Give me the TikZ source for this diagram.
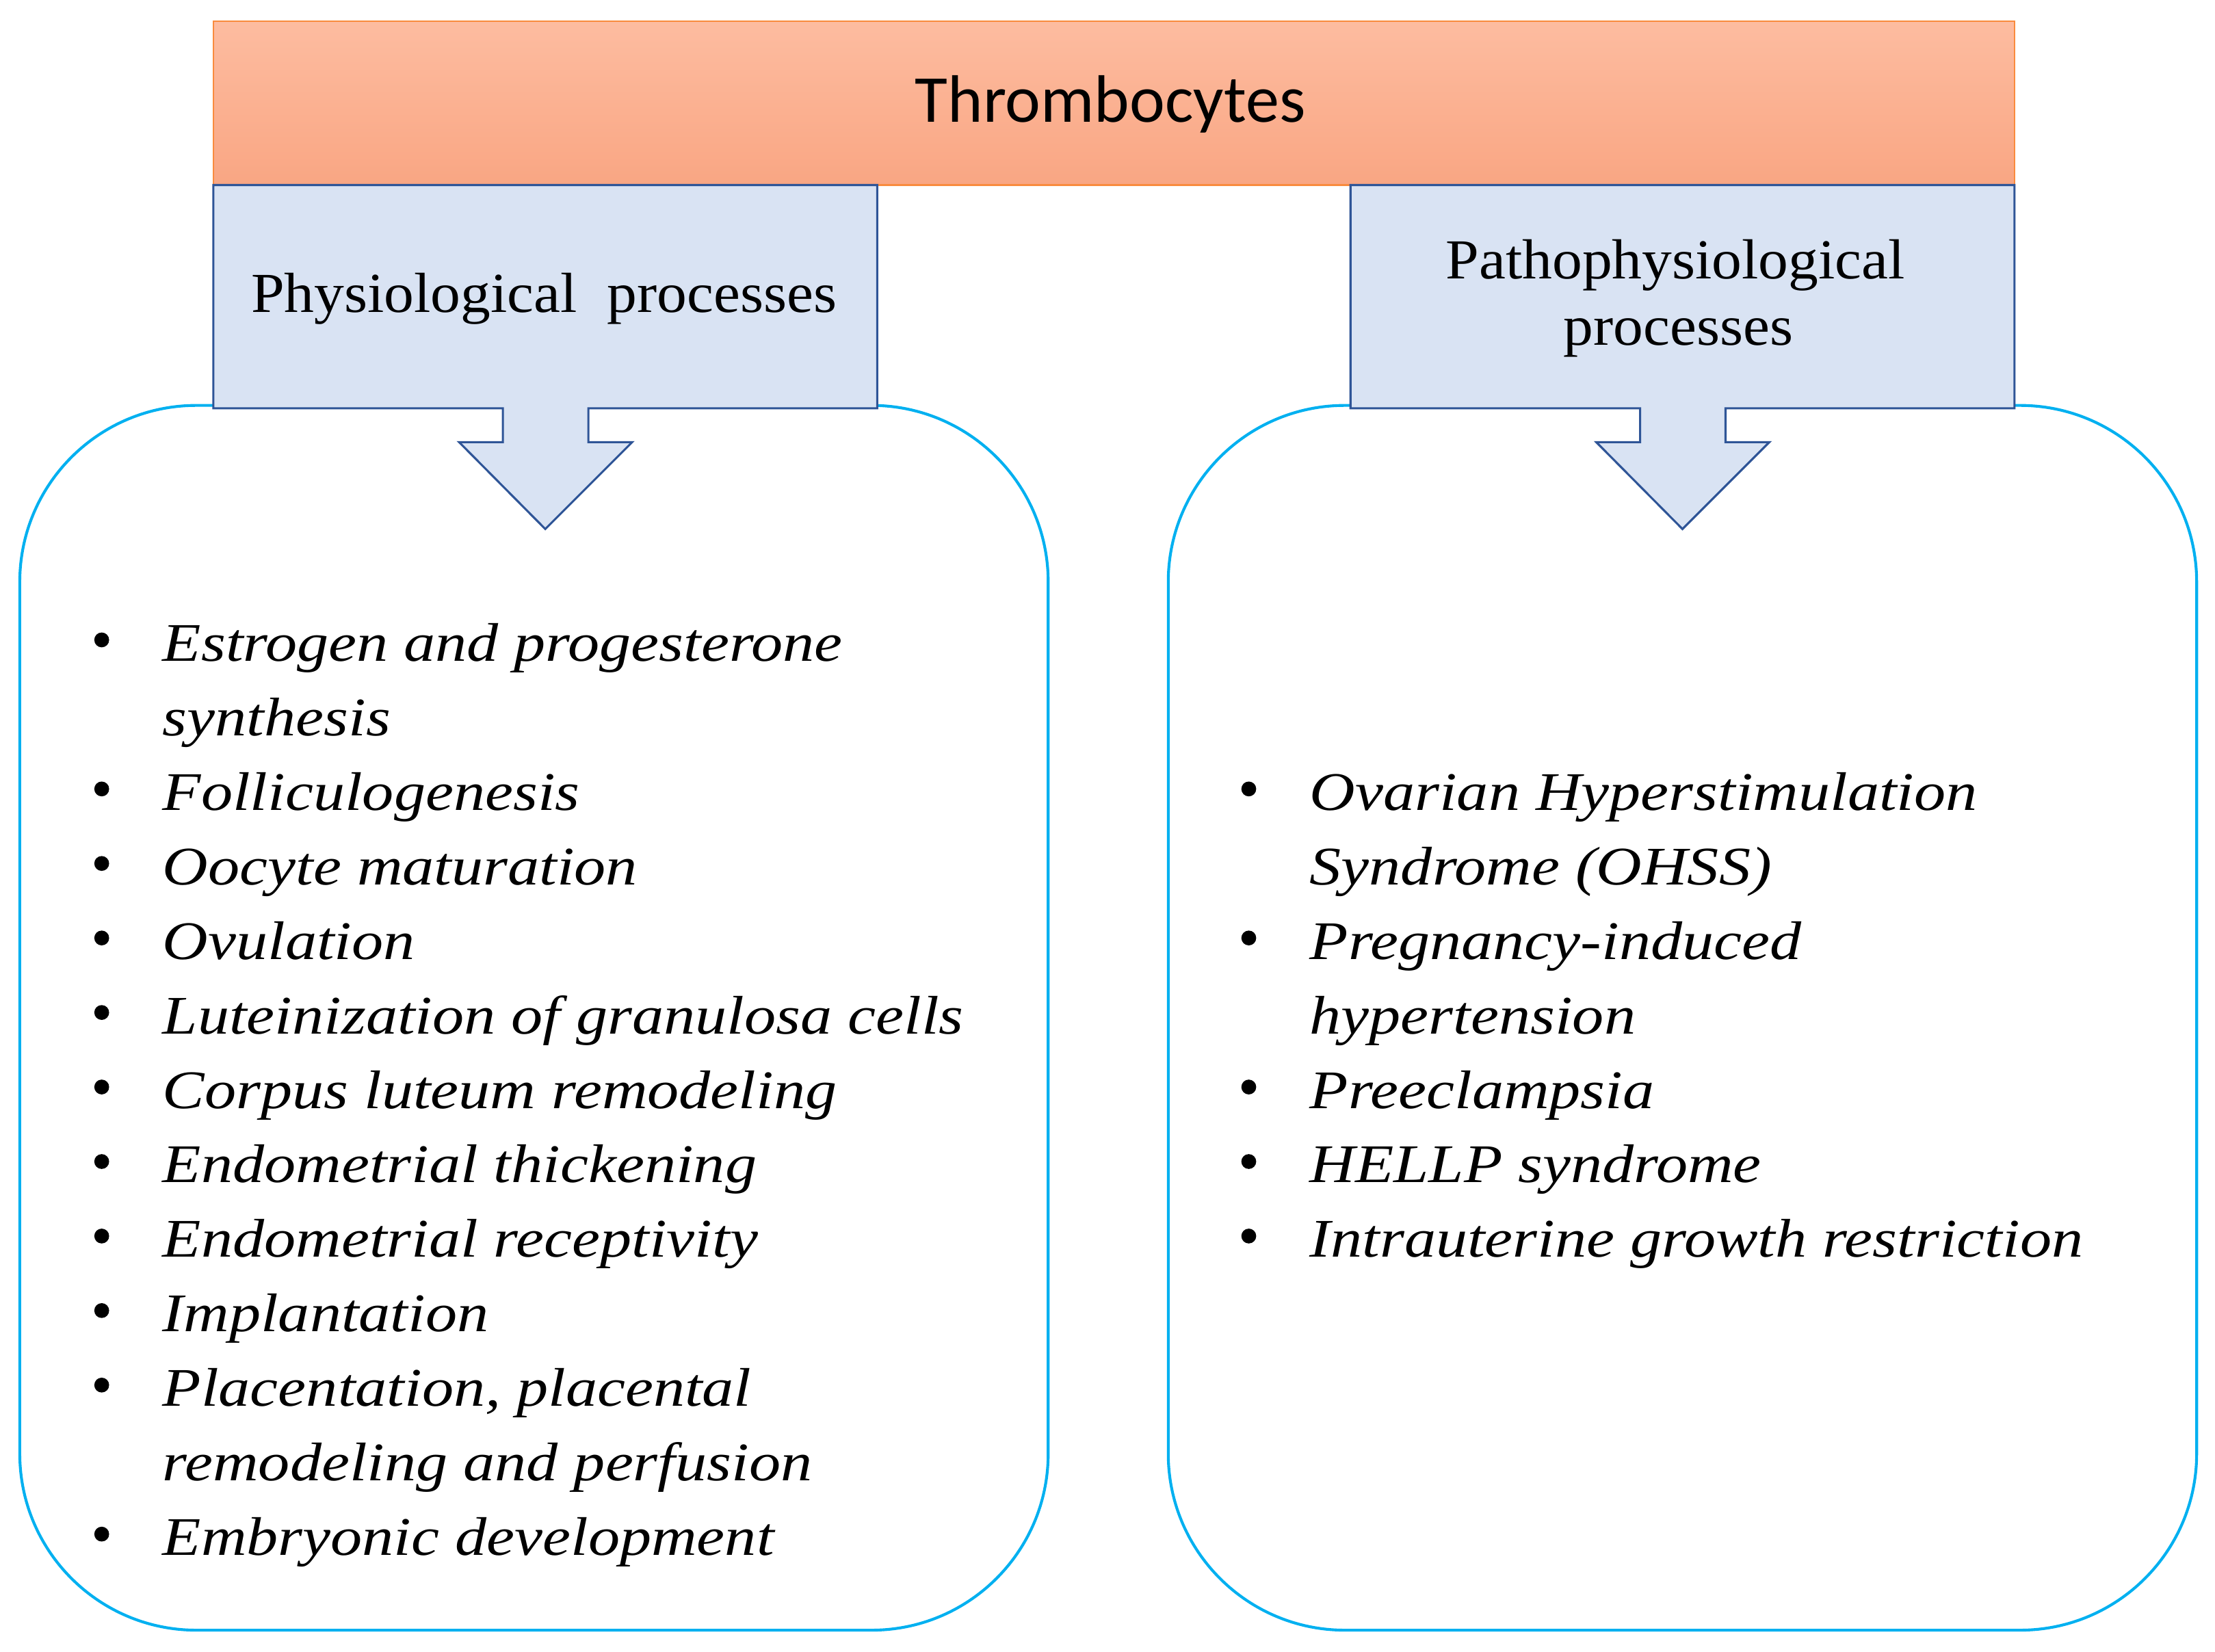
\documentclass[tikz,border=0pt]{standalone}
\usepackage{fontspec}
\setmainfont{Liberation Serif}
\newfontfamily\thrfont{Carlito}
\newfontfamily\listfont[FakeStretch=1.16]{Liberation Serif}
\newfontfamily\headfont[FakeStretch=1.06]{Liberation Serif}
\definecolor{orfillT}{HTML}{FDBCA0}
\definecolor{orfillB}{HTML}{F9A683}
\definecolor{ordraw}{HTML}{F98B3E}
\definecolor{bluefill}{HTML}{D9E3F3}
\definecolor{bluedraw}{HTML}{2F5597}
\definecolor{cyanline}{HTML}{00B0F0}
\tikzset{
  listtext/.style={anchor=base west, inner sep=0pt, font=\listfont\fontsize{38.5}{44}\selectfont\itshape},
  bulletdot/.style={circle, fill=black, inner sep=0pt, minimum size=10.5pt},
  headtext/.style={anchor=base, inner sep=0pt, font=\headfont\fontsize{40}{46}\selectfont},
  callout/.style={fill=bluefill, draw=bluedraw, line width=1.5pt, line join=miter},
  panel/.style={draw=cyanline, line width=2pt, rounded corners=125pt},
}
\begin{document}
\begin{tikzpicture}[x=1pt,y=-1pt]
\useasboundingbox (0,0) rectangle (1568,1169);
% panels
\draw[panel] (14,287) rectangle (742,1154);
\draw[panel] (827,287) rectangle (1555,1154);
% top bar
\shade[top color=orfillT, bottom color=orfillB, draw=ordraw, line width=1.2pt] (151,15) rectangle (1426,131);
\node[anchor=base, inner sep=0pt, font=\thrfont\fontsize{47.5}{50}\selectfont] (thr) at (786,86.5) {Thrombocytes};
% callouts
\draw[callout] (151,131) -- (621,131) -- (621,289) -- (416.5,289) -- (416.5,313) -- (447.5,313) -- (386,374.5) -- (325,313) -- (356,313) -- (356,289) -- (151,289) -- cycle;
\draw[callout] (956,131) -- (1426,131) -- (1426,289) -- (1221.5,289) -- (1221.5,313) -- (1252.5,313) -- (1191,374.5) -- (1130,313) -- (1161,313) -- (1161,289) -- (956,289) -- cycle;
\node[headtext] (phys) at (385,221) {Physiological~~processes};
\node[headtext] (path1) at (1186,197.5) {Pathophysiological};
\node[headtext] (path2) at (1188,244.5) {processes};
% left list
\foreach \t/\y/\b [count=\i] in {
  {Estrogen and progesterone}/468/1,
  {synthesis}/520.75/0,
  {Folliculogenesis}/573.5/1,
  {Oocyte maturation}/626.25/1,
  {Ovulation}/679/1,
  {Luteinization of granulosa cells}/731.75/1,
  {Corpus luteum remodeling}/784.5/1,
  {Endometrial thickening}/837.25/1,
  {Endometrial receptivity}/890/1,
  {Implantation}/942.75/1,
  {Placentation, placental}/995.5/1,
  {remodeling and perfusion}/1048.25/0,
  {Embryonic development}/1101/1}{
  \node[listtext] (L\i) at (115,\y) {\t};
  \ifnum\b=1 \node[bulletdot] (LB\i) at (72,\y-15) {};\fi
}
% right list
\foreach \t/\y/\b [count=\i] in {
  {Ovarian Hyperstimulation}/573.5/1,
  {Syndrome (OHSS)}/626.25/0,
  {Pregnancy-induced}/679/1,
  {hypertension}/731.75/0,
  {Preeclampsia}/784.5/1,
  {HELLP syndrome}/837.25/1,
  {Intrauterine growth restriction}/890/1}{
  \node[listtext] (R\i) at (927,\y) {\t};
  \ifnum\b=1 \node[bulletdot] (RB\i) at (884,\y-15) {};\fi
}
\end{tikzpicture}
\end{document}
